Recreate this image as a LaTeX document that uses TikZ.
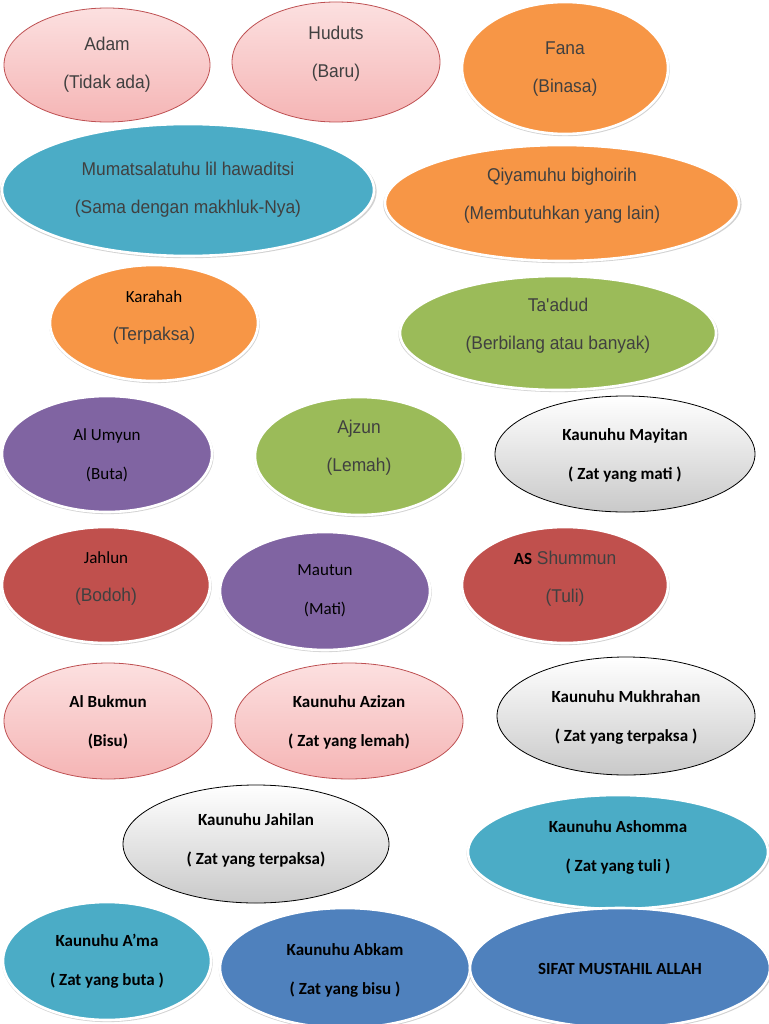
\documentclass[tikz,border=0pt]{standalone}
\usepackage{fontspec}
\usetikzlibrary{shapes.geometric,shadows}

\newfontfamily\lbfont[FakeStretch=0.94]{Liberation Sans}
\newfontfamily\cbfont{Carlito}

\definecolor{accBlue}{HTML}{4F81BD}
\definecolor{accRed}{HTML}{C0504D}
\definecolor{accGreen}{HTML}{9BBB59}
\definecolor{accPurple}{HTML}{8064A2}
\definecolor{accAqua}{HTML}{4BACC6}
\definecolor{accOrange}{HTML}{F79646}
\definecolor{pinkTop}{HTML}{FCE0E0}
\definecolor{pinkBot}{HTML}{F5B5B5}
\definecolor{pinkLine}{HTML}{BE5052}
\definecolor{grayBot}{HTML}{C9C9C9}
\definecolor{txtGray}{HTML}{404040}

\begin{document}
\begin{tikzpicture}[x=1pt, y=-1pt,
    blob/.style={ellipse, inner sep=0pt, draw=white, line width=2.6pt,
        fill=#1, drop shadow={opacity=0.35, shadow scale=1.012,
        shadow xshift=0.4pt, shadow yshift=-1.4pt}},
    pinkblob/.style={ellipse, inner sep=0pt, draw=pinkLine, line width=0.8pt,
        top color=pinkTop, bottom color=pinkBot},
    grayblob/.style={ellipse, inner sep=0pt, draw=black, line width=0.8pt,
        top color=white, bottom color=grayBot},
    lbl/.style={font=\lbfont\fontsize{18.5}{22}\selectfont, text=txtGray,
        align=center},
    cal/.style={font=\cbfont\fontsize{17}{20}\selectfont, text=black,
        align=center},
    bld/.style={font=\cbfont\bfseries\fontsize{17}{20}\selectfont,
        text=black, align=center},
]

% === Page ===
\fill[white] (0,0) rectangle (768,1024);
\useasboundingbox (0,0) rectangle (768,1024);

% === Row 1 ===
\node[pinkblob, minimum width=206, minimum height=114] (adam) at (107,65) {};
\node[lbl] (adam-t) at (107,65) {Adam\\[16pt](Tidak ada)};

\node[pinkblob, minimum width=208, minimum height=120] (huduts) at (336,62) {};
\node[lbl] (huduts-t) at (336,54) {Huduts\\[16pt](Baru)};

\node[blob=accOrange, minimum width=206, minimum height=132] (fana) at (565,68) {};
\node[lbl] (fana-t) at (565,69) {Fana\\[16pt](Binasa)};

% === Row 2 ===
\node[blob=accAqua, minimum width=372, minimum height=132] (mumatsalah) at (188,190) {};
\node[lbl] (mumatsalah-t) at (188,190)
    {Mumatsalatuhu lil hawaditsi\\[16pt](Sama dengan makhluk-Nya)};

\node[blob=accOrange, minimum width=354, minimum height=116] (qiyamuhu) at (562,203) {};
\node[lbl] (qiyamuhu-t) at (562,196)
    {Qiyamuhu bighoirih\\[16pt](Membutuhkan yang lain)};

% === Row 3 ===
\node[blob=accOrange, minimum width=208, minimum height=116] (karahah) at (154,323) {};
\node[lbl] (karahah-t) at (154,318)
    {{\cbfont\fontsize{17}{20}\selectfont\color{black}Karahah}\\[16pt](Terpaksa)};

\node[blob=accGreen, minimum width=316, minimum height=114] (taadud) at (558,333) {};
\node[lbl] (taadud-t) at (558,326) {Ta'adud\\[16pt](Berbilang atau banyak)};

% === Row 4 ===
\node[blob=accPurple, minimum width=210, minimum height=116] (umyun) at (107,454) {};
\node[cal] (umyun-t) at (107,455) {Al Umyun\\[19pt](Buta)};

\node[blob=accGreen, minimum width=208, minimum height=118] (ajzun) at (359,456) {};
\node[lbl] (ajzun-t) at (359,448) {Ajzun\\[16pt](Lemah)};

\node[grayblob, minimum width=260, minimum height=116] (mayitan) at (625,454) {};
\node[bld] (mayitan-t) at (625,455) {Kaunuhu Mayitan\\[19pt]( Zat yang mati )};

% === Row 5 ===
\node[blob=accRed, minimum width=208, minimum height=116] (jahlun) at (106,585) {};
\node[lbl] (jahlun-t) at (106,579)
    {{\cbfont\fontsize{17}{20}\selectfont\color{black}Jahlun}\\[16pt](Bodoh)};

\node[blob=accPurple, minimum width=210, minimum height=118] (mautun) at (325,591) {};
\node[cal] (mautun-t) at (325,591) {Mautun\\[19pt](Mati)};

\node[blob=accRed, minimum width=206, minimum height=116] (shummun) at (565,585) {};
\node[lbl] (shummun-t) at (565,579)
    {{\cbfont\bfseries\fontsize{17}{20}\selectfont\color{black}AS} Shummun\\[16pt](Tuli)};

% === Row 6 ===
\node[pinkblob, minimum width=208, minimum height=116] (bukmun) at (108,721) {};
\node[bld] (bukmun-t) at (108,722) {Al Bukmun\\[19pt](Bisu)};

\node[pinkblob, minimum width=228, minimum height=116] (azizan) at (349,721) {};
\node[bld] (azizan-t) at (349,722) {Kaunuhu Azizan\\[19pt]( Zat yang lemah)};

\node[grayblob, minimum width=258, minimum height=118] (mukhrahan) at (626,716) {};
\node[bld] (mukhrahan-t) at (626,717)
    {Kaunuhu Mukhrahan\\[19pt]( Zat yang terpaksa )};

% === Row 7 ===
\node[grayblob, minimum width=266, minimum height=118] (jahilan) at (256,844) {};
\node[bld] (jahilan-t) at (256,840) {Kaunuhu Jahilan\\[19pt]( Zat yang terpaksa)};

\node[blob=accAqua, minimum width=300, minimum height=114] (ashomma) at (618,852) {};
\node[bld] (ashomma-t) at (618,847) {Kaunuhu Ashomma\\[19pt]( Zat yang tuli )};

% === Row 8 ===
\node[blob=accAqua, minimum width=208, minimum height=118] (ama) at (107,961) {};
\node[bld] (ama-t) at (107,961) {Kaunuhu A’ma\\[19pt]( Zat yang buta )};

\node[blob=accBlue, minimum width=250, minimum height=120] (abkam) at (345,968) {};
\node[bld] (abkam-t) at (345,970) {Kaunuhu Abkam\\[19pt]( Zat yang bisu )};

\node[blob=accBlue, minimum width=300, minimum height=120] (mustahil) at (620,968) {};
\node[bld] (mustahil-t) at (620,969) {SIFAT MUSTAHIL ALLAH};

\end{tikzpicture}
\end{document}
